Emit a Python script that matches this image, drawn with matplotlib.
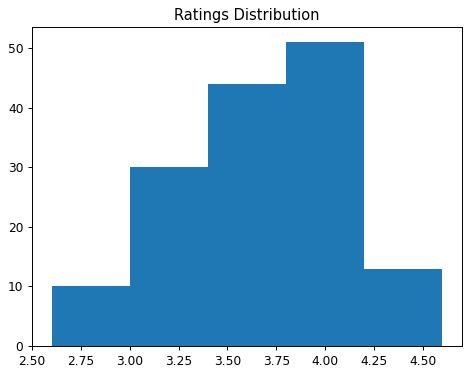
import numpy as np
import matplotlib
matplotlib.use('Agg')
import matplotlib.pyplot as plt

# histogram bin edges and counts
bin_edges = [2.6, 3.0, 3.4, 3.8, 4.2, 4.6]
counts = [10, 30, 44, 51, 13]

centers = [(a + b) / 2 for a, b in zip(bin_edges[:-1], bin_edges[1:])]

dpi = 88
fig, ax = plt.subplots(figsize=(474 / dpi, 375 / dpi), dpi=dpi)
fig.subplots_adjust(left=0.0675, right=0.9747, top=0.928, bottom=0.0773)
ax.hist(centers, bins=bin_edges, weights=counts, color='#1f77b4')
ax.set_title('Ratings Distribution')
ax.set_xticks(np.arange(2.5, 4.51, 0.25))
fig.savefig('out.png', dpi=dpi)
